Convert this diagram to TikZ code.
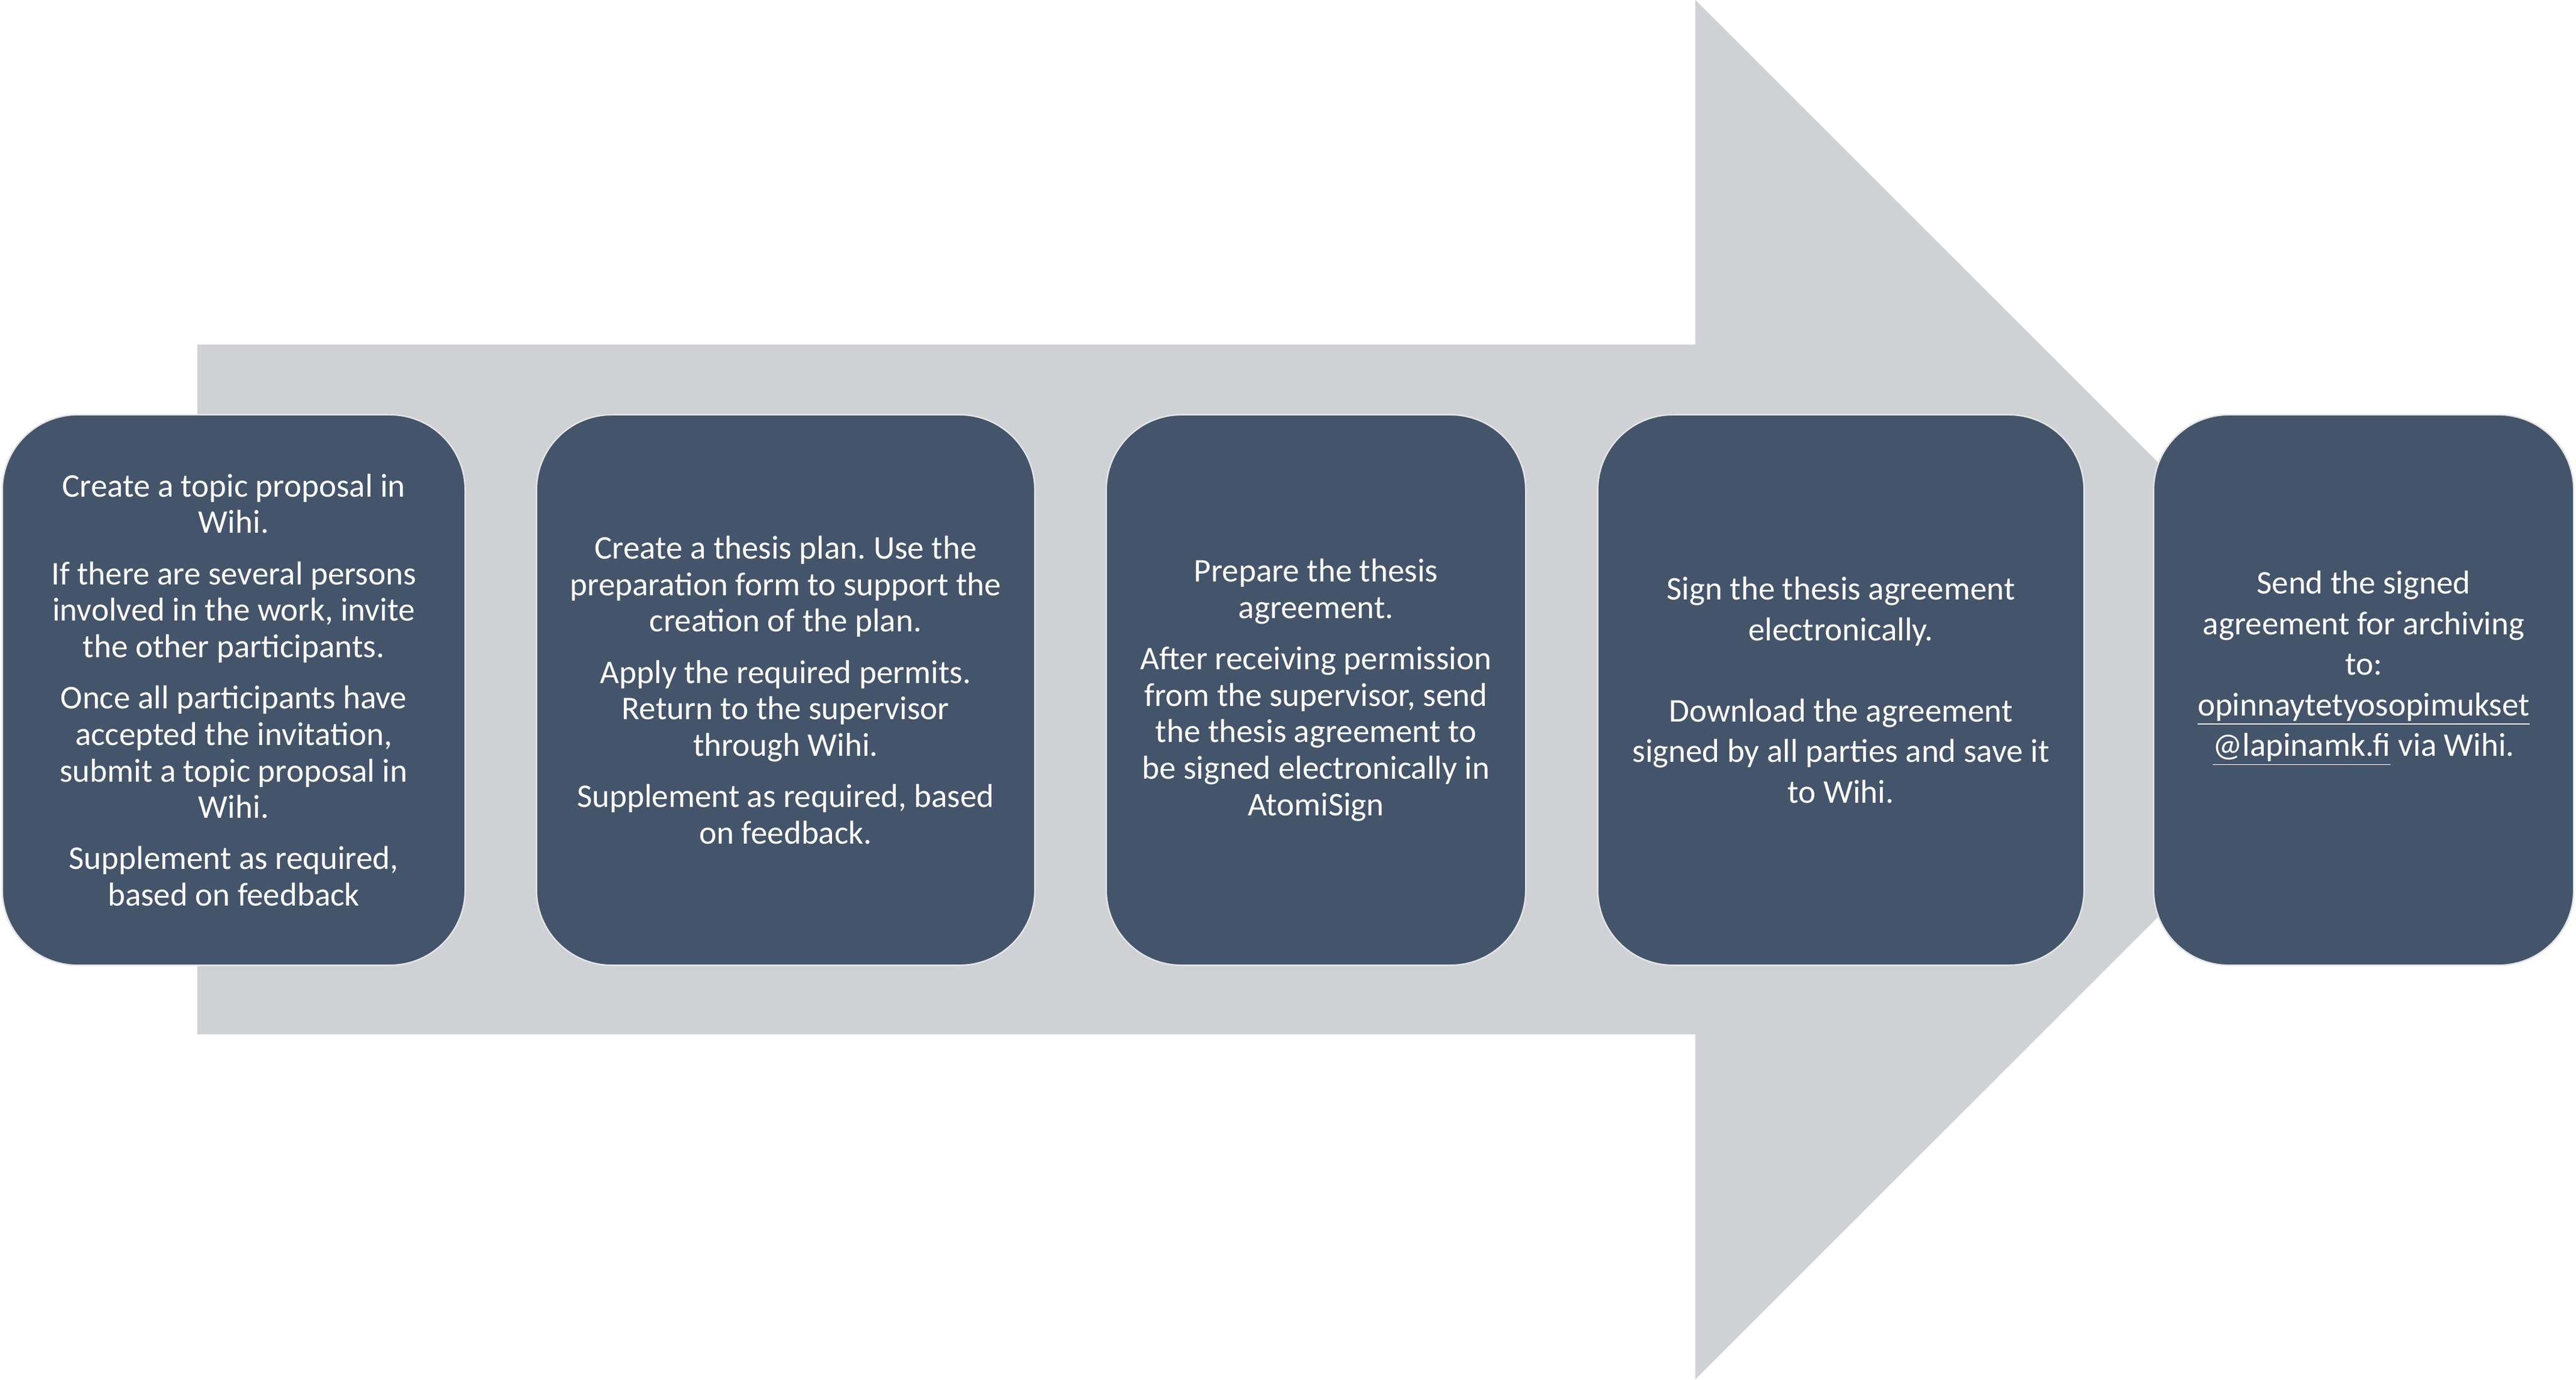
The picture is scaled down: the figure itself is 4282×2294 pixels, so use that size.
\documentclass[tikz,border=0pt]{standalone}
\usepackage{fontspec}
\setmainfont{Carlito}
\definecolor{arrowgray}{RGB}{208,209,213}
\definecolor{boxblue}{RGB}{68,84,106}
\definecolor{edgegray}{RGB}{228,229,231}
\frenchspacing
\begin{document}
\begin{tikzpicture}[x=0.01cm,y=-0.01cm,
  stepbox/.style={rectangle,fill=boxblue,draw=edgegray,line width=0.7pt,rounded corners=1.25cm,
    minimum height=9.15cm,text=white,align=center,inner sep=0pt},
  smalltext/.style={font=\fontsize{15.65}{17.25}\selectfont},
  bigtext/.style={font=\fontsize{15.65}{19.2}\selectfont}]
\useasboundingbox (0,0) rectangle (4282,2294);
\fill[arrowgray] (328,573) -- (2818,573) -- (2818,0) -- (3965,1147) -- (2818,2294) -- (2818,1720) -- (328,1720) -- cycle;
\node[stepbox,smalltext,minimum width=7.69cm] (s1) at (388.5,1147.5)
  {Create a topic proposal in\\Wihi.\\[7pt]
   If there are several persons\\involved in the work, invite\\the other participants.\\[7pt]
   Once all participants have\\accepted the invitation,\\submit a topic proposal in\\Wihi.\\[7pt]
   Supplement as required,\\based on feedback};
\node[stepbox,smalltext,minimum width=8.28cm] (s2) at (1306,1147.5)
  {Create a thesis plan. Use the\\preparation form to support the\\creation of the plan.\\[7pt]
   Apply the required permits.\\Return to the supervisor\\through Wihi.\\[7pt]
   Supplement as required, based\\on feedback.};
\node[stepbox,smalltext,minimum width=6.97cm] (s3) at (2187.5,1147.5)
  {Prepare the thesis\\agreement.\\[7pt]
   After receiving permission\\from the supervisor, send\\the thesis agreement to\\be signed electronically in\\AtomiSign};
\node[stepbox,bigtext,minimum width=8.08cm] (s4) at (3060,1147.5)
  {Sign the thesis agreement\\electronically.\\[19.2pt]
   Download the agreement\\signed by all parties and save it\\to Wihi.};
\node[stepbox,bigtext,minimum width=6.98cm] (s5) at (3929,1147.5)
  {Send the signed\\agreement for archiving\\to:\\\underline{opinnaytetyosopimukset}\\\underline{@lapinamk.fi} via Wihi.\\\strut};
\end{tikzpicture}
\end{document}
